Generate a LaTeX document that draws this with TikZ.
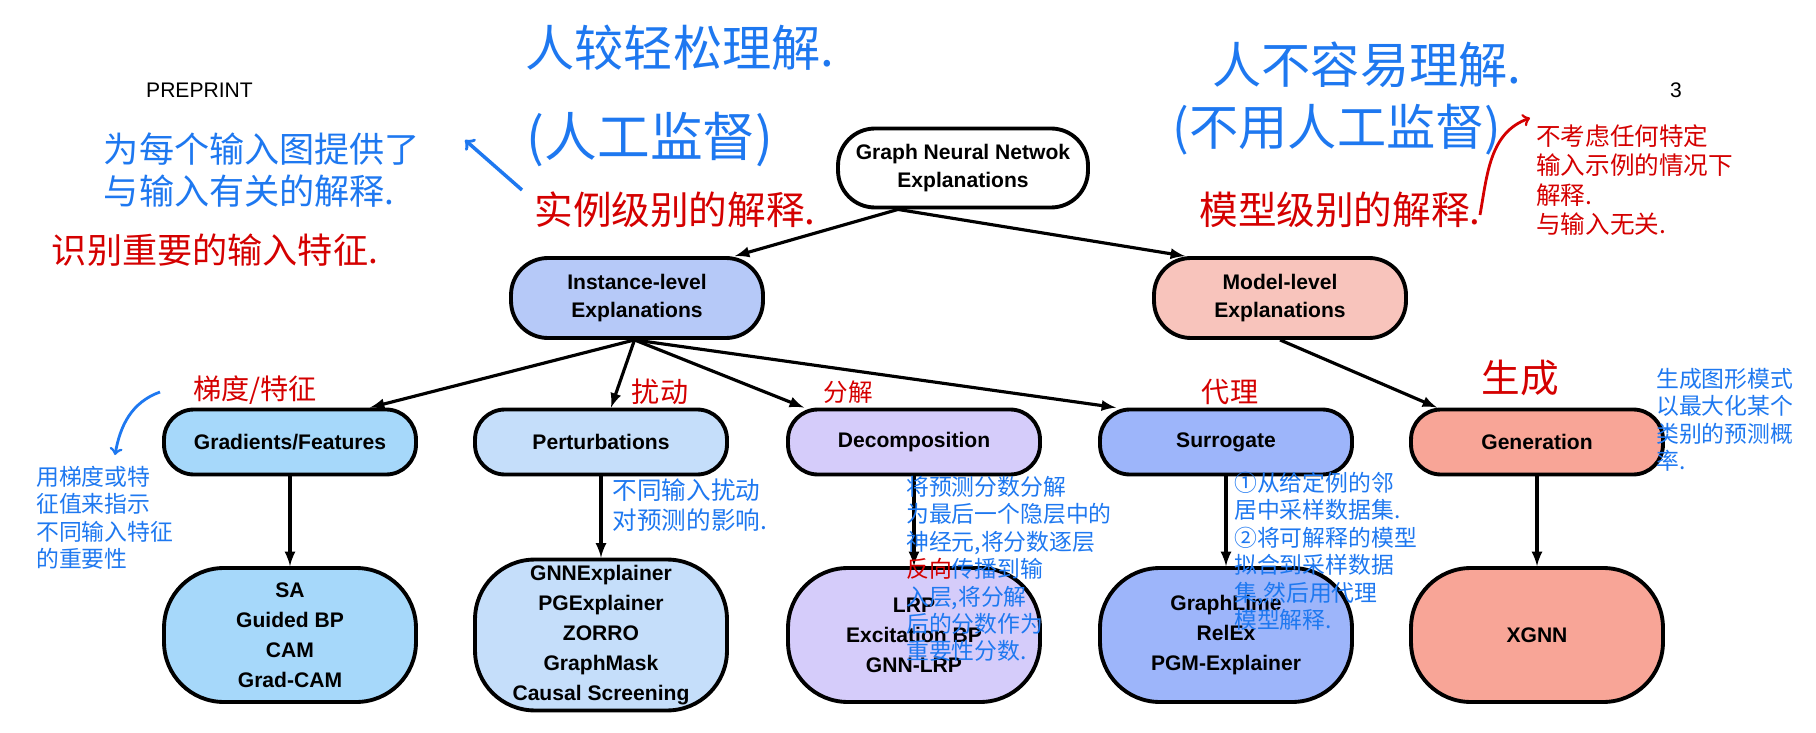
\documentclass[tikz,border=0pt]{standalone}
\usepackage{fontspec}
\setmainfont{Liberation Sans}
\newfontfamily\cjk{Noto Sans CJK SC}
\definecolor{inkblue}{HTML}{1E78F0}
\definecolor{inkred}{HTML}{D40000}
\definecolor{cgrad}{HTML}{A6D8FA}
\definecolor{cpert}{HTML}{C5DEFA}
\definecolor{cdec}{HTML}{D5CCFA}
\definecolor{csur}{HTML}{9DB5FA}
\definecolor{cgen}{HTML}{F8A597}
\definecolor{cinst}{HTML}{B6C9F8}
\definecolor{cmod}{HTML}{F8C4BC}
\begin{document}
\begin{tikzpicture}[x=0.02cm,y=-0.02cm,
  box/.style={draw,line width=2.2pt,rounded corners=17pt,align=center,
    font=\bfseries\fontsize{12}{16}\selectfont,minimum width=5.04cm},
  top/.style={box,minimum height=1.3cm},
  leaf/.style={box,minimum height=2.68cm,rounded corners=34pt,
    font=\bfseries\fontsize{12}{17}\selectfont},
  arr/.style={-latex,line width=1.8pt},
  blue/.style={text=inkblue,font=\cjk\fontsize{#1}{\the\dimexpr#1pt*6/5\relax}\selectfont,align=left},
  red/.style={text=inkred,font=\cjk\fontsize{#1}{\the\dimexpr#1pt*6/5\relax}\selectfont,align=left}]
\useasboundingbox (0,0) rectangle (1816,733);

% tree
\node[box,rounded corners=21pt,minimum width=5cm,minimum height=1.58cm] (root) at (963,168) {Graph Neural Netwok\\Explanations};
\node[top,rounded corners=21pt,fill=cinst,minimum height=1.6cm] (inst) at (637,298) {Instance-level\\Explanations};
\node[top,rounded corners=21pt,fill=cmod,minimum height=1.6cm] (mod) at (1280,298) {Model-level\\Explanations};
\node[top,fill=cgrad] (grad) at (290,442) {Gradients/Features};
\node[top,fill=cpert] (pert) at (601,442) {Perturbations};
\node[top,fill=cdec] (dec) at (914,442) {Decomposition};
\node[top,fill=csur] (sur) at (1226,442) {Surrogate};
\node[top,fill=cgen] (gen) at (1537,442) {Generation};
\node[leaf,fill=cgrad] (l1) at (290,635) {SA\\Guided BP\\CAM\\Grad-CAM};
\node[leaf,fill=cpert] (l2) at (601,635) {GNNExplainer\\PGExplainer\\ZORRO\\GraphMask\\Causal Screening};
\node[leaf,fill=cdec] (l3) at (914,635) {LRP\\Excitation BP\\GNN-LRP};
\node[leaf,fill=csur] (l4) at (1226,635) {GraphLime\\RelEx\\PGM-Explainer};
\node[leaf,fill=cgen] (l5) at (1537,635) {XGNN};

\coordinate (rs) at ([xshift=-1.3cm]root.south);
\coordinate (is) at ([xshift=-0.05cm]inst.south);
\draw[arr] (rs) -- ([xshift=-0.6cm]inst.north east);
\draw[arr] (rs) -- ([xshift=-1.9cm]mod.north);
\draw[arr] (is) -- ([xshift=1.6cm]grad.north);
\draw[arr] (is) -- ([xshift=0.2cm]pert.north);
\draw[arr] (is) -- ([xshift=-2.2cm]dec.north);
\draw[arr] (is) -- ([xshift=-2.2cm]sur.north);
\draw[arr] (mod.south) -- ([xshift=-2cm]gen.north);
\foreach \a/\b in {grad/l1,pert/l2,dec/l3,sur/l4,gen/l5}
  \draw[arr] (\a) -- (\b);

% page marks
\node[anchor=west,font=\fontsize{12}{14}\selectfont] (pp) at (140,90) {PREPRINT};
\node[font=\fontsize{12}{14}\selectfont] (pn) at (1676,90) {3};

% annotations, top
\node[blue=28] (t1) at (680,48) {人较轻松理解.};
\node[blue=30] (t2) at (650,140) {(人工监督)};
\node[red=22] (t3) at (675,210) {实例级别的解释.};
\node[blue=20] (t4) at (262,170) {为每个输入图提供了\\与输入有关的解释.};
\node[red=20] (t5) at (215,250) {识别重要的输入特征.};
\coordinate (a1) at (522,190);
\draw[inkblue,line width=2pt,->] (a1) -- (465,140);
\node[blue=28] (t6) at (1367,65) {人不容易理解.};
\node[blue=28] (t7) at (1337,130) {(不用人工监督)};
\node[red=22] (t8) at (1340,210) {模型级别的解释.};
\node[red=14,anchor=north west] (t9) at (1530,118) {不考虑任何特定\\输入示例的情况下\\解释.\\与输入无关.};
\coordinate (a2) at (1480,215);
\draw[inkred,line width=1.6pt,->] (a2) to[out=80,in=200] (t9.north west);

% annotations, category labels
\node[red=16] (c1) at (255,390) {梯度/特征};
\node[red=16] (c2) at (660,392) {扰动};
\node[red=14] (c3) at (848,392) {分解};
\node[red=16] (c4) at (1230,392) {代理};
\node[red=22] (c5) at (1520,378) {生成};

% annotations, notes
\node[blue=13,anchor=north west] (n1) at (30,460) {用梯度或特\\征值来指示\\不同输入特征\\的重要性};
\coordinate (a3) at (160,392);
\draw[inkblue,line width=1.6pt,->] (a3) to[out=200,in=80] (115,455);
\node[blue=14] (n2) at (690,505) {不同输入扰动\\对预测的影响.};
\node[blue=13,anchor=north west] (n3) at (900,470) {将预测分数分解\\为最后一个隐层中的\\神经元,将分数逐层\\{\color{inkred}反向}传播到输\\入层,将分解\\后的分数作为\\重要性分数.};
\node[blue=13,anchor=north west] (n4) at (1228,466) {①从给定例的邻\\居中采样数据集.\\②将可解释的模型\\拟合到采样数据\\集,然后用代理\\模型解释.};
\node[blue=13,anchor=north west] (n5) at (1650,362) {生成图形模式\\以最大化某个\\类别的预测概\\率.};
\end{tikzpicture}
\end{document}
